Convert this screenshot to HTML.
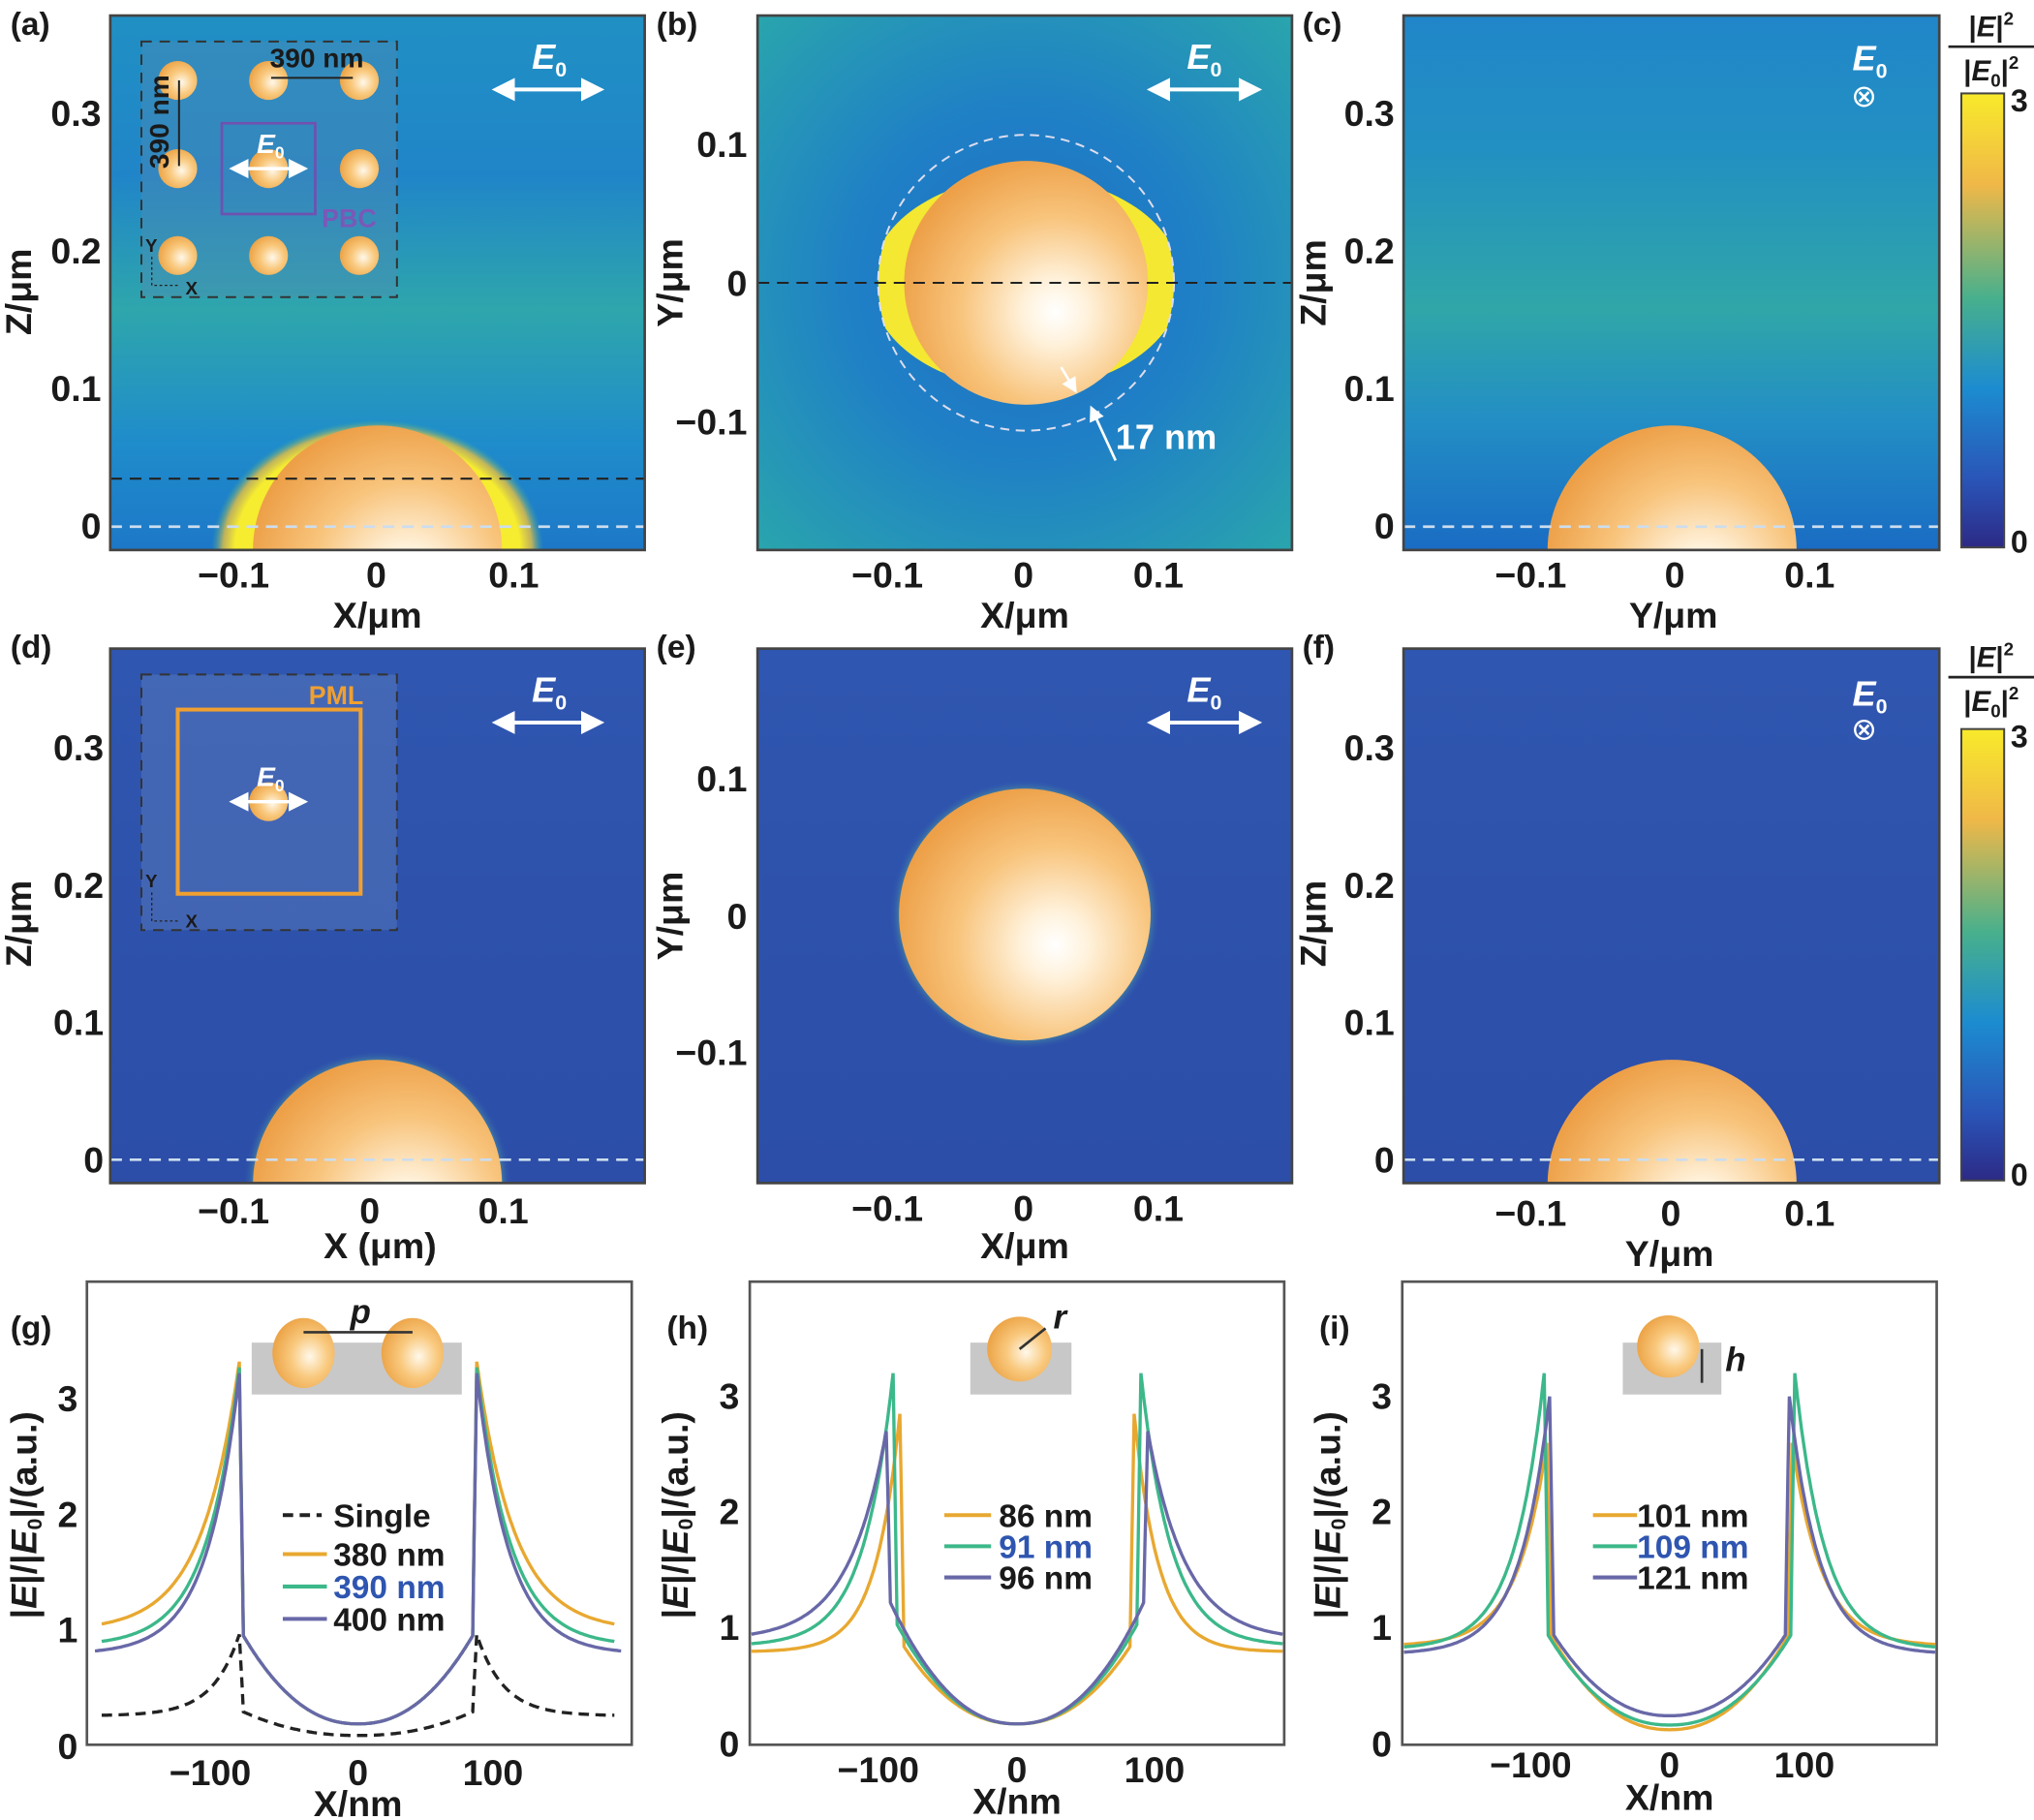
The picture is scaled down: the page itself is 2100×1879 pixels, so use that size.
<!DOCTYPE html>
<html><head><meta charset="utf-8"><style>
html,body{margin:0;padding:0;background:#fff}
svg{display:block}
text{font-family:"Liberation Sans",sans-serif;font-weight:bold;fill:#1a1a1a}
.t{font-size:28px}
.l{font-size:28px}
.p{font-size:25px}
.s{font-style:normal}
</style></head><body>
<svg id="s" width="2100" height="1879" viewBox="0 0 1568 1403" xmlns="http://www.w3.org/2000/svg">
<defs>
<radialGradient id="sph" cx="0.62" cy="0.62" r="0.65">
<stop offset="0" stop-color="#ffffff"/><stop offset="0.2" stop-color="#fff2dc"/><stop offset="0.6" stop-color="#f8c47c"/><stop offset="1" stop-color="#eda048"/></radialGradient>
<radialGradient id="sphs" cx="0.6" cy="0.55" r="0.6">
<stop offset="0" stop-color="#fff8ea"/><stop offset="0.5" stop-color="#f9c97e"/><stop offset="1" stop-color="#eca447"/></radialGradient>
<linearGradient id="bgA" x1="0" y1="0" x2="0" y2="1">
<stop offset="0" stop-color="#2090c4"/><stop offset="0.3" stop-color="#2085c8"/><stop offset="0.55" stop-color="#2ea6ac"/><stop offset="0.8" stop-color="#1f8ccb"/><stop offset="1" stop-color="#1d78c8"/></linearGradient>
<linearGradient id="bgC" x1="0" y1="0" x2="0" y2="1">
<stop offset="0" stop-color="#2186c9"/><stop offset="0.25" stop-color="#2290c2"/><stop offset="0.55" stop-color="#30a6a8"/><stop offset="0.75" stop-color="#238fc4"/><stop offset="1" stop-color="#1a6cc4"/></linearGradient>
<radialGradient id="bgB" cx="0.5" cy="0.5" r="0.72">
<stop offset="0" stop-color="#1f70c0"/><stop offset="0.45" stop-color="#1f80c6"/><stop offset="1" stop-color="#2aa6ac"/></radialGradient>
<linearGradient id="bg2" x1="0" y1="0" x2="0" y2="1">
<stop offset="0" stop-color="#2f56b0"/><stop offset="1" stop-color="#2c4ea8"/></linearGradient>
<linearGradient id="cb" x1="0" y1="0" x2="0" y2="1">
<stop offset="0" stop-color="#f8ea2a"/><stop offset="0.2" stop-color="#f0b848"/><stop offset="0.45" stop-color="#48b08c"/><stop offset="0.65" stop-color="#1c8cd0"/><stop offset="0.85" stop-color="#2a55b8"/><stop offset="1" stop-color="#2c2a86"/></linearGradient>
<radialGradient id="glowY" cx="0.5" cy="0.5" r="0.5">
<stop offset="0.86" stop-color="#f6ec30"/><stop offset="0.93" stop-color="#e8c040" stop-opacity="0.8"/><stop offset="1" stop-color="#40b090" stop-opacity="0"/></radialGradient>
<radialGradient id="glowE" cx="0.5" cy="0.5" r="0.5">
<stop offset="0.88" stop-color="#60c090"/><stop offset="1" stop-color="#2f56b0" stop-opacity="0"/></radialGradient>
<clipPath id="ca"><rect x="85" y="12" width="412" height="412"/></clipPath>
<clipPath id="cbx"><rect x="584" y="12" width="412" height="412"/></clipPath>
<clipPath id="cbc"><circle cx="791" cy="218" r="114"/></clipPath>
<clipPath id="cc"><rect x="1082" y="12" width="413" height="412"/></clipPath>
<clipPath id="cd"><rect x="85" y="500" width="412" height="412"/></clipPath>
<clipPath id="ce"><rect x="584" y="500" width="412" height="412"/></clipPath>
<clipPath id="cf"><rect x="1082" y="500" width="413" height="412"/></clipPath>
<marker id="ah" markerWidth="6" markerHeight="6" refX="3" refY="3" orient="auto-start-reverse"><path d="M0,0 L6,3 L0,6 z" fill="#fff"/></marker>
</defs>

<!-- Panel a -->
<g clip-path="url(#ca)">
<rect x="85" y="12" width="412" height="412" fill="url(#bgA)"/>
<ellipse cx="291" cy="424" rx="128" ry="100" fill="url(#glowY)"/>
<circle cx="291" cy="424" r="96" fill="url(#sph)"/>
<line x1="85" y1="369" x2="497" y2="369" stroke="#222" stroke-width="1.5" stroke-dasharray="9,6"/>
<line x1="85" y1="406" x2="497" y2="406" stroke="#cde" stroke-width="2" stroke-dasharray="9,6"/>
</g>
<rect x="85" y="12" width="412" height="412" fill="none" stroke="#444" stroke-width="2"/>
<rect x="109" y="32" width="197" height="197" fill="#5a8ab0" fill-opacity="0.35" stroke="#333" stroke-width="1.5" stroke-dasharray="8,6"/>
<g fill="url(#sphs)"><circle cx="137" cy="62" r="15"/><circle cx="207" cy="62" r="15"/><circle cx="277" cy="62" r="15"/><circle cx="137" cy="130" r="15"/><circle cx="207" cy="130" r="15"/><circle cx="277" cy="130" r="15"/><circle cx="137" cy="197" r="15"/><circle cx="207" cy="197" r="15"/><circle cx="277" cy="197" r="15"/></g>
<rect x="171" y="95" width="72" height="70" fill="none" stroke="#7050b0" stroke-width="2"/>
<text x="248" y="175" font-size="20" style="fill:#7a58b8">PBC</text>
<line x1="209" y1="60" x2="272" y2="60" stroke="#222" stroke-width="1.5"/>
<line x1="138" y1="62" x2="138" y2="128" stroke="#222" stroke-width="1.5"/>
<text x="208" y="52" font-size="21">390 nm</text>
<text transform="translate(130,130) rotate(-90)" font-size="21">390 nm</text>
<line x1="184" y1="130" x2="230" y2="130" stroke="#fff" stroke-width="2.5" marker-start="url(#ah)" marker-end="url(#ah)"/>
<text x="198" y="118" font-size="21" font-style="italic" style="fill:#fff">E<tspan class="s" font-size="13" dy="4">0</tspan></text>
<text x="112" y="194" font-size="14">Y</text><text x="143" y="227" font-size="14">X</text>
<path d="M117,198 v22 h22" stroke="#222" fill="none" stroke-dasharray="2,2"/>
<line x1="388" y1="69" x2="457" y2="69" stroke="#fff" stroke-width="3" marker-start="url(#ah)" marker-end="url(#ah)"/>
<text x="410" y="53" font-size="27" font-style="italic" style="fill:#fff">E<tspan class="s" font-size="16" dy="6">0</tspan></text>
<g class="t" text-anchor="end"><text x="78" y="97">0.3</text><text x="78" y="203">0.2</text><text x="78" y="309">0.1</text><text x="78" y="415">0</text></g>
<g class="t" text-anchor="middle"><text x="180" y="453">−0.1</text><text x="290" y="453">0</text><text x="396" y="453">0.1</text></g>
<text class="l" x="291" y="484" text-anchor="middle">X/μm</text>
<text class="l" transform="translate(24,225) rotate(-90)" text-anchor="middle">Z/μm</text>
<text class="p" x="8" y="27">(a)</text>

<!-- Panel b -->
<g clip-path="url(#cbx)">
<rect x="584" y="12" width="412" height="412" fill="url(#bgB)"/>
<g clip-path="url(#cbc)"><ellipse cx="791" cy="218" rx="120" ry="82" fill="#f4e832"/></g>
<circle cx="791" cy="218" r="94" fill="url(#sph)"/>
<circle cx="791" cy="218" r="114" fill="none" stroke="#dde" stroke-width="1.5" stroke-dasharray="7,5"/>
<line x1="584" y1="218" x2="996" y2="218" stroke="#222" stroke-width="1.5" stroke-dasharray="9,6"/>
</g>
<rect x="584" y="12" width="412" height="412" fill="none" stroke="#444" stroke-width="2"/>
<line x1="860" y1="355" x2="843" y2="318" stroke="#fff" stroke-width="2" marker-end="url(#ah)"/>
<line x1="818" y1="283" x2="827" y2="298" stroke="#fff" stroke-width="2" marker-end="url(#ah)"/>
<text x="860" y="346" font-size="27" style="fill:#fff">17 nm</text>
<line x1="893" y1="69" x2="964" y2="69" stroke="#fff" stroke-width="3" marker-start="url(#ah)" marker-end="url(#ah)"/>
<text x="915" y="53" font-size="27" font-style="italic" style="fill:#fff">E<tspan class="s" font-size="16" dy="6">0</tspan></text>
<g class="t" text-anchor="end"><text x="576" y="121">0.1</text><text x="576" y="228">0</text><text x="576" y="335">−0.1</text></g>
<g class="t" text-anchor="middle"><text x="684" y="453">−0.1</text><text x="789" y="453">0</text><text x="893" y="453">0.1</text></g>
<text class="l" x="790" y="484" text-anchor="middle">X/μm</text>
<text class="l" transform="translate(526,218) rotate(-90)" text-anchor="middle">Y/μm</text>
<text class="p" x="506" y="27">(b)</text>

<!-- Panel c -->
<g clip-path="url(#cc)">
<rect x="1082" y="12" width="413" height="412" fill="url(#bgC)"/>
<circle cx="1289" cy="424" r="96" fill="url(#sph)"/>
<line x1="1082" y1="406" x2="1495" y2="406" stroke="#cde" stroke-width="2" stroke-dasharray="9,6"/>
</g>
<rect x="1082" y="12" width="413" height="412" fill="none" stroke="#444" stroke-width="2"/>
<text x="1428" y="54" font-size="27" font-style="italic" style="fill:#fff">E<tspan class="s" font-size="16" dy="6">0</tspan></text>
<text x="1437" y="82" font-size="24" text-anchor="middle" style="fill:#fff;font-weight:normal">⊗</text>
<g class="t" text-anchor="end"><text x="1075" y="97">0.3</text><text x="1075" y="203">0.2</text><text x="1075" y="309">0.1</text><text x="1075" y="415">0</text></g>
<g class="t" text-anchor="middle"><text x="1180" y="453">−0.1</text><text x="1291" y="453">0</text><text x="1395" y="453">0.1</text></g>
<text class="l" x="1290" y="484" text-anchor="middle">Y/μm</text>
<text class="l" transform="translate(1022,218) rotate(-90)" text-anchor="middle">Z/μm</text>
<text class="p" x="1004" y="27">(c)</text>

<!-- colorbar 1 -->
<rect x="1512" y="72" width="33" height="350" fill="url(#cb)" stroke="#444" stroke-width="1.5"/>
<text x="1550" y="86" font-size="24">3</text><text x="1550" y="426" font-size="24">0</text>
<text x="1535" y="28" font-size="22" text-anchor="middle">|<tspan font-style="italic">E</tspan>|<tspan font-size="14" dy="-9">2</tspan></text>
<line x1="1502" y1="36" x2="1568" y2="36" stroke="#222" stroke-width="2"/>
<text x="1535" y="62" font-size="22" text-anchor="middle">|<tspan font-style="italic">E</tspan><tspan font-size="14" dy="5">0</tspan><tspan dy="-5">|</tspan><tspan font-size="14" dy="-9">2</tspan></text>

<!-- Panel d -->
<g clip-path="url(#cd)">
<rect x="85" y="500" width="412" height="412" fill="url(#bg2)"/>
<circle cx="291" cy="913" r="103" fill="url(#glowE)"/>
<circle cx="291" cy="913" r="96" fill="url(#sph)"/>
<line x1="85" y1="894" x2="497" y2="894" stroke="#cde" stroke-width="2" stroke-dasharray="9,6"/>
</g>
<rect x="85" y="500" width="412" height="412" fill="none" stroke="#444" stroke-width="2"/>
<rect x="109" y="520" width="197" height="197" fill="#6a8ac0" fill-opacity="0.35" stroke="#333" stroke-width="1.5" stroke-dasharray="8,6"/>
<rect x="137" y="547" width="141" height="142" fill="none" stroke="#f0a030" stroke-width="3"/>
<text x="238" y="543" font-size="20" style="fill:#f0a030">PML</text>
<circle cx="207" cy="618" r="15" fill="url(#sphs)"/>
<line x1="184" y1="618" x2="230" y2="618" stroke="#fff" stroke-width="2.5" marker-start="url(#ah)" marker-end="url(#ah)"/>
<text x="198" y="606" font-size="21" font-style="italic" style="fill:#fff">E<tspan class="s" font-size="13" dy="4">0</tspan></text>
<text x="112" y="684" font-size="14">Y</text><text x="143" y="715" font-size="14">X</text>
<path d="M117,688 v22 h22" stroke="#222" fill="none" stroke-dasharray="2,2"/>
<line x1="388" y1="557" x2="457" y2="557" stroke="#fff" stroke-width="3" marker-start="url(#ah)" marker-end="url(#ah)"/>
<text x="410" y="541" font-size="27" font-style="italic" style="fill:#fff">E<tspan class="s" font-size="16" dy="6">0</tspan></text>
<g class="t" text-anchor="end"><text x="80" y="586">0.3</text><text x="80" y="692">0.2</text><text x="80" y="798">0.1</text><text x="80" y="904">0</text></g>
<g class="t" text-anchor="middle"><text x="180" y="943">−0.1</text><text x="285" y="943">0</text><text x="388" y="943">0.1</text></g>
<text class="l" x="293" y="970" text-anchor="middle">X (μm)</text>
<text class="l" transform="translate(24,712) rotate(-90)" text-anchor="middle">Z/μm</text>
<text class="p" x="8" y="507">(d)</text>

<!-- Panel e -->
<g clip-path="url(#ce)">
<rect x="584" y="500" width="412" height="412" fill="url(#bg2)"/>
<circle cx="790" cy="705" r="104" fill="url(#glowE)"/>
<circle cx="790" cy="705" r="97" fill="url(#sph)"/>
</g>
<rect x="584" y="500" width="412" height="412" fill="none" stroke="#444" stroke-width="2"/>
<line x1="893" y1="557" x2="964" y2="557" stroke="#fff" stroke-width="3" marker-start="url(#ah)" marker-end="url(#ah)"/>
<text x="915" y="541" font-size="27" font-style="italic" style="fill:#fff">E<tspan class="s" font-size="16" dy="6">0</tspan></text>
<g class="t" text-anchor="end"><text x="576" y="610">0.1</text><text x="576" y="716">0</text><text x="576" y="821">−0.1</text></g>
<g class="t" text-anchor="middle"><text x="684" y="941">−0.1</text><text x="789" y="941">0</text><text x="893" y="941">0.1</text></g>
<text class="l" x="790" y="970" text-anchor="middle">X/μm</text>
<text class="l" transform="translate(526,706) rotate(-90)" text-anchor="middle">Y/μm</text>
<text class="p" x="506" y="507">(e)</text>

<!-- Panel f -->
<g clip-path="url(#cf)">
<rect x="1082" y="500" width="413" height="412" fill="url(#bg2)"/>
<circle cx="1289" cy="913" r="96" fill="url(#sph)"/>
<line x1="1082" y1="894" x2="1495" y2="894" stroke="#cde" stroke-width="2" stroke-dasharray="9,6"/>
</g>
<rect x="1082" y="500" width="413" height="412" fill="none" stroke="#444" stroke-width="2"/>
<text x="1428" y="544" font-size="27" font-style="italic" style="fill:#fff">E<tspan class="s" font-size="16" dy="6">0</tspan></text>
<text x="1437" y="570" font-size="24" text-anchor="middle" style="fill:#fff;font-weight:normal">⊗</text>
<g class="t" text-anchor="end"><text x="1075" y="586">0.3</text><text x="1075" y="692">0.2</text><text x="1075" y="798">0.1</text><text x="1075" y="904">0</text></g>
<g class="t" text-anchor="middle"><text x="1180" y="945">−0.1</text><text x="1288" y="945">0</text><text x="1395" y="945">0.1</text></g>
<text class="l" x="1287" y="976" text-anchor="middle">Y/μm</text>
<text class="l" transform="translate(1022,712) rotate(-90)" text-anchor="middle">Z/μm</text>
<text class="p" x="1004" y="507">(f)</text>

<!-- colorbar 2 -->
<rect x="1512" y="562" width="33" height="348" fill="url(#cb)" stroke="#444" stroke-width="1.5"/>
<text x="1550" y="576" font-size="24">3</text><text x="1550" y="914" font-size="24">0</text>
<text x="1535" y="514" font-size="22" text-anchor="middle">|<tspan font-style="italic">E</tspan>|<tspan font-size="14" dy="-9">2</tspan></text>
<line x1="1502" y1="522" x2="1568" y2="522" stroke="#222" stroke-width="2"/>
<text x="1535" y="548" font-size="22" text-anchor="middle">|<tspan font-style="italic">E</tspan><tspan font-size="14" dy="5">0</tspan><tspan dy="-5">|</tspan><tspan font-size="14" dy="-9">2</tspan></text>

<g id="lines"></g>

<!-- Panel g -->
<rect x="67" y="988" width="420" height="357" fill="none" stroke="#555" stroke-width="2"/>
<rect x="194" y="1035" width="162" height="40" fill="#c8c8c8"/>
<ellipse cx="234" cy="1043" rx="24" ry="27" fill="url(#sphs)"/>
<ellipse cx="318" cy="1043" rx="24" ry="27" fill="url(#sphs)"/>
<line x1="234" y1="1027" x2="318" y2="1027" stroke="#333" stroke-width="2"/>
<text x="270" y="1020" font-size="26" font-style="italic">p</text>
<g class="t" text-anchor="end"><text x="60" y="1356">0</text><text x="60" y="1266">1</text><text x="60" y="1177">2</text><text x="60" y="1088">3</text></g>
<g class="t" text-anchor="middle"><text x="162" y="1376">−100</text><text x="276" y="1376">0</text><text x="380" y="1376">100</text></g>
<text class="l" x="276" y="1400" text-anchor="middle">X/nm</text>
<text class="l" transform="translate(28,1168) rotate(-90)" text-anchor="middle">|<tspan font-style="italic">E</tspan>|/|<tspan font-style="italic">E</tspan><tspan font-size="16" dy="4">0</tspan><tspan dy="-4">|/(a.u.)</tspan></text>
<text class="p" x="8" y="1032">(g)</text>
<g font-size="25"><text x="257" y="1177">Single</text><text x="257" y="1207">380 nm</text><text x="257" y="1232" style="fill:#2e55b0">390 nm</text><text x="257" y="1257">400 nm</text></g>
<line x1="218" y1="1168" x2="248" y2="1168" stroke="#222" stroke-width="3" stroke-dasharray="8,5"/>
<line x1="218" y1="1198" x2="252" y2="1198" stroke="#e8a830" stroke-width="3"/>
<line x1="218" y1="1223" x2="252" y2="1223" stroke="#3cb88a" stroke-width="3"/>
<line x1="218" y1="1248" x2="252" y2="1248" stroke="#6868a8" stroke-width="3"/>

<!-- Panel h -->
<rect x="578" y="988" width="412" height="357" fill="none" stroke="#555" stroke-width="2"/>
<rect x="748" y="1035" width="78" height="40" fill="#c8c8c8"/>
<circle cx="786" cy="1040" r="25" fill="url(#sphs)"/>
<line x1="786" y1="1040" x2="806" y2="1024" stroke="#333" stroke-width="2"/>
<text x="812" y="1024" font-size="26" font-style="italic">r</text>
<g class="t" text-anchor="end"><text x="570" y="1354">0</text><text x="570" y="1264">1</text><text x="570" y="1175">2</text><text x="570" y="1086">3</text></g>
<g class="t" text-anchor="middle"><text x="677" y="1374">−100</text><text x="784" y="1374">0</text><text x="890" y="1374">100</text></g>
<text class="l" x="784" y="1398" text-anchor="middle">X/nm</text>
<text class="l" transform="translate(530,1168) rotate(-90)" text-anchor="middle">|<tspan font-style="italic">E</tspan>|/|<tspan font-style="italic">E</tspan><tspan font-size="16" dy="4">0</tspan><tspan dy="-4">|/(a.u.)</tspan></text>
<text class="p" x="514" y="1032">(h)</text>
<g font-size="25"><text x="770" y="1177">86 nm</text><text x="770" y="1201" style="fill:#2e55b0">91 nm</text><text x="770" y="1225">96 nm</text></g>
<line x1="728" y1="1168" x2="764" y2="1168" stroke="#e8a830" stroke-width="3"/>
<line x1="728" y1="1192" x2="764" y2="1192" stroke="#3cb88a" stroke-width="3"/>
<line x1="728" y1="1216" x2="764" y2="1216" stroke="#6868a8" stroke-width="3"/>

<!-- Panel i -->
<rect x="1081" y="988" width="412" height="357" fill="none" stroke="#555" stroke-width="2"/>
<rect x="1251" y="1035" width="76" height="40" fill="#c8c8c8"/>
<circle cx="1286" cy="1038" r="24" fill="url(#sphs)"/>
<line x1="1312" y1="1040" x2="1312" y2="1066" stroke="#333" stroke-width="2"/>
<text x="1330" y="1057" font-size="26" font-style="italic">h</text>
<g class="t" text-anchor="end"><text x="1073" y="1354">0</text><text x="1073" y="1264">1</text><text x="1073" y="1175">2</text><text x="1073" y="1086">3</text></g>
<g class="t" text-anchor="middle"><text x="1180" y="1370">−100</text><text x="1287" y="1370">0</text><text x="1391" y="1370">100</text></g>
<text class="l" x="1287" y="1395" text-anchor="middle">X/nm</text>
<text class="l" transform="translate(1033,1168) rotate(-90)" text-anchor="middle">|<tspan font-style="italic">E</tspan>|/|<tspan font-style="italic">E</tspan><tspan font-size="16" dy="4">0</tspan><tspan dy="-4">|/(a.u.)</tspan></text>
<text class="p" x="1017" y="1032">(i)</text>
<g font-size="25"><text x="1262" y="1177">101 nm</text><text x="1262" y="1201" style="fill:#2e55b0">109 nm</text><text x="1262" y="1225">121 nm</text></g>
<line x1="1228" y1="1168" x2="1262" y2="1168" stroke="#e8a830" stroke-width="3"/>
<line x1="1228" y1="1192" x2="1262" y2="1192" stroke="#3cb88a" stroke-width="3"/>
<line x1="1228" y1="1216" x2="1262" y2="1216" stroke="#6868a8" stroke-width="3"/>
</svg>
<script>
(function(){
var g=document.getElementById('lines'),NS='http://www.w3.org/2000/svg';
function curve(x0,y0,sx,sy,xmin,xmax,a,peak,far,inner0,innerEdge,dec,col,dash){
  var d='';
  for(var x=xmin;x<=xmax;x+=1){
    var ax=Math.abs(x),v;
    if(ax<a){v=inner0+(innerEdge-inner0)*Math.pow(ax/a,2.2); if(ax>a-3){v=innerEdge+(peak-innerEdge)*(ax-(a-3))/3;}}
    else{v=far+(peak-far)*Math.exp(-(ax-a)/dec);}
    var px=x0+x*sx,py=y0-v*sy;
    d+=(d?'L':'M')+px.toFixed(1)+','+py.toFixed(1);
  }
  var p=document.createElementNS(NS,'path');
  p.setAttribute('d',d);p.setAttribute('fill','none');p.setAttribute('stroke',col);
  p.setAttribute('stroke-width','2.5');if(dash)p.setAttribute('stroke-dasharray',dash);
  g.appendChild(p);
}
var O='#e8a830',G='#3cb88a',P='#6868a8';
curve(276,1345,1.04,89.5,-190,190,88,3.3,0.98,0.18,1.0,28,O);
curve(276,1345,1.04,89.5,-190,190,88,3.25,0.85,0.18,1.0,25,G);
curve(276,1345,1.04,89.5,-195,195,88,3.2,0.78,0.18,1.0,24,P);
curve(276,1345,1.04,89.5,-190,190,88,0.95,0.25,0.08,0.3,20,'#222','8,5');
curve(784,1345,1.05,89.5,-195,195,86,2.85,0.80,0.18,0.9,18,O);
curve(784,1345,1.05,89.5,-195,195,91,3.2,0.85,0.18,1.1,22,G);
curve(784,1345,1.05,89.5,-195,195,96,2.7,0.90,0.18,1.3,28,P);
curve(1287,1345,1.05,89.5,-195,195,90,2.6,0.85,0.13,1.0,22,O);
curve(1287,1345,1.05,89.5,-195,195,92,3.2,0.82,0.17,1.0,22,G);
curve(1287,1345,1.05,89.5,-195,195,88,3.0,0.78,0.25,1.0,22,P);
})();
</script>
</body></html>
